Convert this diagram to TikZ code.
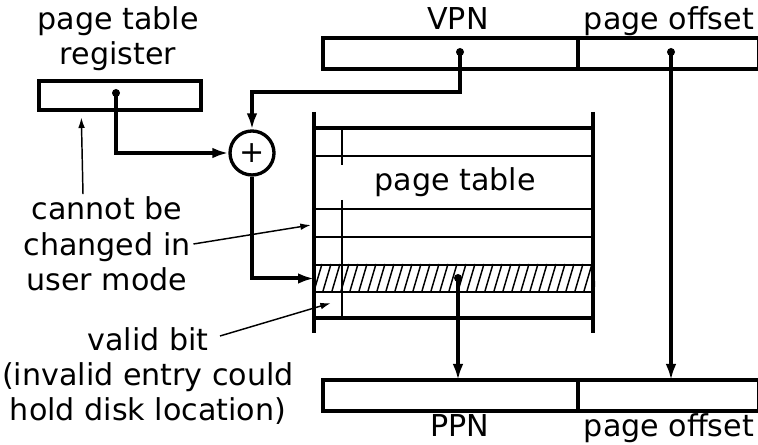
\documentclass[tikz,border=0pt]{standalone}
\usepackage{fontspec}
\setmainfont{DejaVu Sans}
\usetikzlibrary{arrows.meta}
\tikzstyle{field}=[rectangle, draw, line width=1.5pt, inner sep=0pt, minimum height=21.75pt, anchor=north west]
\tikzstyle{frame}=[line width=3pt]
\tikzstyle{wire}=[line width=3pt, -{Latex[length=12pt,width=8pt]}]
\tikzstyle{pointer}=[line width=1.1pt, -{Latex[length=8pt,width=5pt]}]
\tikzstyle{lbl}=[inner sep=0pt, anchor=base]
\tikzstyle{note}=[inner sep=2pt, align=center]
\tikzstyle{adder}=[circle, draw, line width=2.5pt, minimum size=33pt, inner sep=0pt, fill=white]
\tikzstyle{row}=[line width=1.5pt]

\begin{document}
\begin{tikzpicture}[x=0.75pt, y=-0.75pt, font=\fontsize{22.6}{26.5}\selectfont]
	\useasboundingbox (0,0) rectangle (758,445);

	%The virtual address
	\node[field, minimum width=189.75pt] (vpnf) at (323,38) {};
	\node[field, minimum width=134.25pt] (voff) at (vpnf.north east) {};
	\draw[frame] (vpnf.north west) rectangle (voff.south east);
	\node[lbl] (vpnl) at (458,30) {VPN};
	\node[lbl] (voffl) at (669,30) {page offset};

	%The page table register
	\node[field, frame, minimum width=121.5pt] (ptreg) at (37,79) {};
	\node[note] (ptregl) at (118,39) {page table\\register};

	%The page table
	\draw[frame] (314,112) -- (314,333);
	\draw[frame] (593,112) -- (593,333);
	\draw[frame] (314,128) -- (593,128);
	\draw[frame] (314,318) -- (593,318);
	\foreach \y in {156,209,237}
		\draw[row] (314,\y) -- (593,\y);
	\node[field, minimum width=209.25pt, minimum height=20.25pt] (entry) at (314,264) {};
	\begin{scope}
		\clip (entry.north west) rectangle (entry.south east);
		\foreach \x in {296,305,...,600}
			\draw[line width=1.1pt] (\x,291) -- ++(8,-27);
	\end{scope}
	\draw[row] (342,128) -- (342,165);
	\draw[row] (342,200) -- (342,318);
	\node (ptl) at (455,182) {page table};

	%The physical address
	\node[field, minimum width=189.75pt] (ppnf) at (323,380) {};
	\node[field, minimum width=134.25pt] (poff) at (ppnf.north east) {};
	\draw[frame] (ppnf.north west) rectangle (poff.south east);
	\node[lbl] (ppnl) at (460,437) {PPN};
	\node[lbl] (poffl) at (669,437) {page offset};

	%The adder
	\node[adder] (plus) at (252,153) {+};

	%The dots
	\coordinate (regdot) at (116,93);
	\coordinate (vpndot) at (460,52);
	\coordinate (offdot) at (671,52);
	\coordinate (entrydot) at (458,278);
	\foreach \d in {regdot,vpndot,offdot,entrydot}
		\fill (\d) circle (3pt);

	%The connectors
	\draw[wire] (regdot) |- (plus.west);
	\draw[wire] (vpndot) -- ++(0,40) -| (plus.north);
	\draw[wire] (plus.south) |- (entry.west);
	\draw[wire] (entrydot) -- (entrydot |- ppnf.north);
	\draw[wire] (offdot) -- (offdot |- poff.north);

	%The notes
	\node[note] (cannot) at (107,244) {cannot be\\changed in\\user mode};
	\node[note] (valid) at (148,376) {valid bit\\(invalid entry could\\hold disk location)};
	\coordinate (usermode) at (311,225);
	\coordinate (validcell) at (331,303);
	\coordinate (validtail) at (220,336);
	\draw[pointer] ([xshift=-18pt]cannot.north) -- ([xshift=-29pt,yshift=-4pt]ptreg.south);
	\draw[pointer] (cannot.east) -- (usermode);
	\draw[pointer] (validtail) -- (validcell);
\end{tikzpicture}
\end{document}
